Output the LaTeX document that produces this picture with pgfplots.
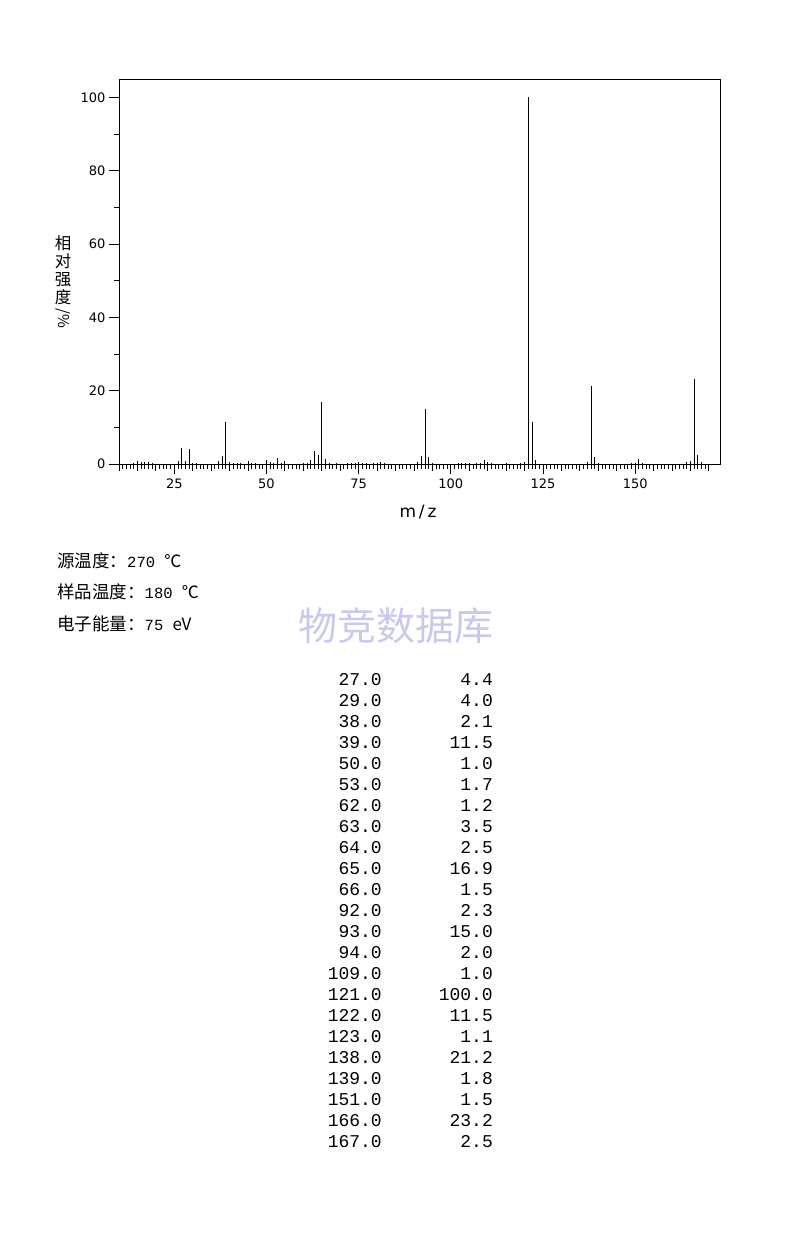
\documentclass[border=0pt]{standalone}
\usepackage{fontspec}
\setmainfont{DejaVu Sans}
\setmonofont{Liberation Mono}
\newfontfamily\cjk{Noto Sans CJK SC}
\usepackage{pgfplots}
\pgfplotsset{compat=1.18}
\definecolor{wmark}{HTML}{C9C9EC}

\begin{document}
\begin{tikzpicture}
\useasboundingbox (0bp,0bp) rectangle (794bp,-1247bp);
\begin{axis}[
  at={(119bp,-464bp)}, anchor=south west,
  width=601bp, height=385bp, scale only axis,
  xmin=10, xmax=173, ymin=0, ymax=105,
  axis line style={line width=1bp},
  every tick/.style={black, line width=0.9bp},
  tick align=outside, tick pos=left,
  major tick length=10bp, minor tick length=5bp,
  xtick={25,50,...,150},
  minor xtick={10,...,170},
  extra x ticks={10,15,20,30,35,40,45,55,60,65,70,80,85,90,95,105,110,115,120,130,135,140,145,155,160,165,170},
  extra x tick labels={},
  extra x tick style={major tick length=7bp},
  ytick={0,20,...,100},
  minor ytick={10,30,...,90},
  /pgf/number format/assume math mode=true,
  tick label style={font=\fontsize{13bp}{15bp}\selectfont},
  xticklabel style={yshift=-1bp},
]
\addplot[ycomb, black, line width=0.9bp, no marks] coordinates {
  (14,0.4) (15,0.9) (16,0.5) (17,0.5) (18,0.5) (19,0.4)
  (26,0.9) (27,4.4) (28,0.8) (29,4.0) (30,0.4) (31,0.4)
  (37,0.9) (38,2.1) (39,11.5) (40,0.5) (41,0.4) (42,0.4) (43,0.4)
  (45,0.9) (46,0.4) (47,0.3) (50,1.0) (51,0.5) (52,0.4) (53,1.7)
  (54,0.4) (55,0.8) (60,0.4) (61,0.4) (62,1.2) (63,3.5) (64,2.5)
  (65,16.9) (66,1.5) (67,0.4) (69,0.4) (72,0.4) (73,0.4) (74,0.4)
  (75,0.5) (76,0.4) (77,0.4) (79,0.4) (80,0.4) (81,0.6) (82,0.4)
  (91,0.6) (92,2.3) (93,15.0) (94,2.0) (95,0.4)
  (102,0.3) (103,0.4) (104,0.4) (105,0.4) (107,0.4) (108,0.4)
  (109,1.0) (110,0.5) (111,0.4) (115,0.4) (119,0.4) (120,0.6)
  (121,100.0) (122,11.5) (123,1.1) (137,0.6) (138,21.2) (139,1.8)
  (140,0.4) (149,0.4) (150,0.4) (151,1.5) (152,0.4)
  (164,0.5) (165,0.8) (166,23.2) (167,2.5) (168,0.5)
};
\end{axis}

% axis titles
\node[anchor=north, align=center, inner sep=0pt,
  font=\cjk\fontsize{16.5bp}{18bp}\selectfont] at (63bp,-235bp) {相\\对\\强\\度};
\node[rotate=-90, inner sep=0pt, font=\cjk\fontsize{15bp}{18bp}\selectfont]
  at (63bp,-318bp) {/\%};
\node[anchor=base, inner sep=0pt, font=\fontsize{17bp}{19bp}\selectfont]
  at (418bp,-517bp) {m\,/\,z};

% instrument settings
\foreach \lab/\val/\unit [count=\i from 0] in {源温度：/270/℃, 样品温度：/180/℃, 电子能量：/75/eV}{
  \node[anchor=base west, inner sep=0pt] at (57bp,{-567bp-\i*31.5bp})
    {{\cjk\fontsize{17.5bp}{19bp}\selectfont \lab}{\ttfamily\fontsize{15.5bp}{18bp}\selectfont \val\ }%
     {\cjk\fontsize{17bp}{19bp}\selectfont\unit}};
}

% watermark
\node[anchor=base, inner sep=0pt, text=wmark, font=\cjk\fontsize{39bp}{42bp}\selectfont]
  at (396bp,-640bp) {物竞数据库};

% peak list
\foreach \mz/\ab [count=\i from 0] in {27.0/4.4, 29.0/4.0, 38.0/2.1, 39.0/11.5,
  50.0/1.0, 53.0/1.7, 62.0/1.2, 63.0/3.5, 64.0/2.5, 65.0/16.9, 66.0/1.5,
  92.0/2.3, 93.0/15.0, 94.0/2.0, 109.0/1.0, 121.0/100.0, 122.0/11.5,
  123.0/1.1, 138.0/21.2, 139.0/1.8, 151.0/1.5, 166.0/23.2, 167.0/2.5}{
  \node[anchor=base east, inner sep=0pt, font=\ttfamily\fontsize{18bp}{20bp}\selectfont]
    at (382bp,{-685.5bp-\i*21bp}) {\mz};
  \node[anchor=base east, inner sep=0pt, font=\ttfamily\fontsize{18bp}{20bp}\selectfont]
    at (493bp,{-685.5bp-\i*21bp}) {\ab};
}
\end{tikzpicture}
\end{document}
